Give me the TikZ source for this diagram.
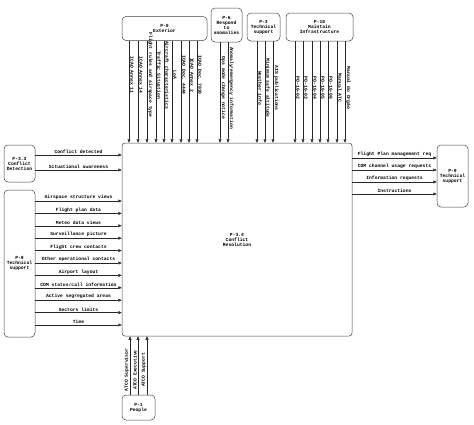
\documentclass[tikz,border=0pt]{standalone}
\usepackage{fontspec}
\setmonofont{Liberation Mono}
\usetikzlibrary{arrows.meta, positioning}

\tikzset{
  box/.style={draw=black!75, line width=0.5pt, rounded corners=4pt, align=center, inner sep=1pt,
    font=\ttfamily\bfseries\fontsize{4.7}{5}\selectfont},
  mainbox/.style={box, rounded corners=3pt},
  flow/.style={draw=black!85, line width=0.5pt, -{Triangle[length=3.5pt,width=3pt]}},
  lab/.style={inner sep=1pt, font=\ttfamily\bfseries\fontsize{4.7}{5}\selectfont},
  downlab/.style={lab, rotate=-90, anchor=south},
  uplab/.style={lab, rotate=90, anchor=south},
}

\begin{document}
\begin{tikzpicture}[x=1pt, y=-1pt]
  \useasboundingbox (0,0) rectangle (474,424);
  %the process in the middle
  \node (main) [mainbox, minimum width=230pt, minimum height=193pt] at (237,239.5) {P-3.4\\Conflict\\Resolution};
  %boxes on top
  \node (p0) [box, minimum width=85pt, minimum height=24pt] at (164.5,28.5) {P-0\\Exterior};
  \node (p6) [box, minimum width=31pt, minimum height=34pt] at (226.5,25) {P-6\\Respond\\to\\anomalies};
  \node (p3) [box, minimum width=33pt, minimum height=28pt] at (263.5,27) {P-3\\Technical\\support};
  \node (p10) [box, minimum width=67pt, minimum height=28pt] at (319.5,27) {P-10\\Maintain\\Infrastructure};
  %boxes left, right and below
  \node (p33) [box, minimum width=31pt, minimum height=37pt] at (19.5,163.5) {P-3.3\\Conflict\\Detection};
  \node (p9l) [box, minimum width=31pt, minimum height=147pt] at (19.5,263.5) {P-9\\Technical\\support};
  \node (p9r) [box, minimum width=31pt, minimum height=62pt] at (452.5,176) {P-9\\Technical\\support};
  \node (p1) [box, minimum width=33pt, minimum height=25pt] at (138.5,407.5) {P-1\\People};

  %inputs from the top
  \foreach \x/\t in {129/ICAO Annex 11, 138/ICAO Annex 14, 147/Flight rules and airspace type,
      156/Traffic Situation, 164/Aircraft characteristics, 172/LoA, 181/ICAO Doc. 4444,
      189/ICAO Annex 2, 197/ICAO Doc. 7030}
    \draw[flow] (p0.south -| \x,0) -- (main.north -| \x,0) node[downlab] at (\x,75) {\t};
  \foreach \x/\t in {220/Ops mode change notice, 228/{Anomaly/emergency information}}
    \draw[flow] (p6.south -| \x,0) -- (main.north -| \x,0) node[downlab] at (\x,88) {\t};
  \foreach \x/\t in {257/Weather info, 265/Minimum safe altitude, 273/AIS publications}
    \draw[flow] (p3.south -| \x,0) -- (main.north -| \x,0) node[downlab] at (\x,88) {\t};
  \foreach \x/\t in {295/PO-16-02, 303/PO-16-03, 312/PO-16-04, 320/PO-16-05, 328/PO-16-06,
      337/Manual ATC, 345/Manual do Orgão}
    \draw[flow] (p10.south -| \x,0) -- (main.north -| \x,0) node[downlab] at (\x,88) {\t};

  %inputs from the left
  \foreach \y/\t in {155/Conflict detected, 170/Situational awareness}
    \draw[flow] (p33.east |- 0,\y) -- (main.west |- 0,\y) node[midway, above, lab] {\t};
  \foreach \y/\t in {201/Airspace structure views, 213.4/Flight plan data, 225.8/Meteo data views,
      238.2/Surveillance picture, 250.6/Flight crew contacts, 263/Other operational contacts,
      275.4/Airport layout, 287.8/{COM status/call information}, 300.2/Active segregated areas,
      312.6/Sectors limits, 325/Time}
    \draw[flow] (p9l.east |- 0,\y) -- (main.west |- 0,\y) node[midway, above, lab] {\t};

  %outputs to the right
  \foreach \y/\t in {158/Flight Plan management req, 170/COM channel usage requests,
      182/Information requests, 194/Instructions}
    \draw[flow] (main.east |- 0,\y) -- (p9r.west |- 0,\y) node[midway, above, lab] {\t};

  %people below
  \foreach \x/\t in {130/ATCO Supervisor, 138/ATCO Executive, 147/ATCO Support}
    \draw[flow] (p1.north -| \x,0) -- (main.south -| \x,0) node[uplab] at (\x,370) {\t};
\end{tikzpicture}
\end{document}
